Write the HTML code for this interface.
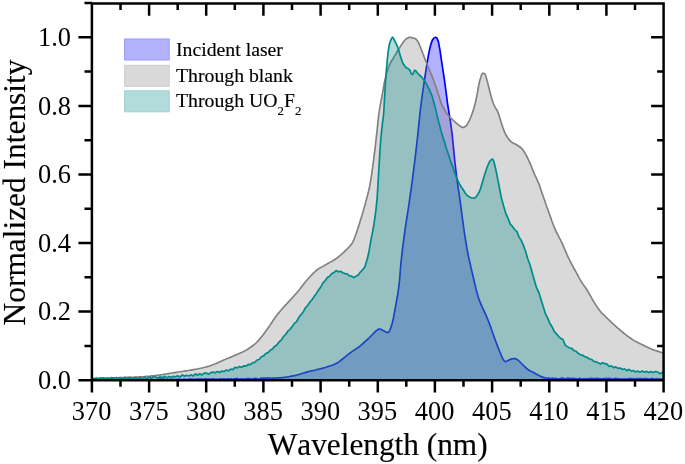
<!DOCTYPE html>
<html lang="en"><head><meta charset="utf-8"><title>Normalized Intensity vs Wavelength</title>
<style>html,body{margin:0;padding:0;background:#fff;}svg{display:block;}</style></head>
<body>
<svg width="685" height="464" viewBox="0 0 685 464">
<rect width="685" height="464" fill="#ffffff"/>
<defs><clipPath id="c"><rect x="91.9" y="3.5" width="571.7" height="376.7"/></clipPath></defs>
<g clip-path="url(#c)" stroke-linejoin="round" stroke-linecap="round">
<path d="M92.0,379.9 L93.5,379.6 L95.0,379.7 L96.5,379.8 L98.0,379.1 L99.5,379.8 L101.0,379.7 L102.5,379.6 L104.0,379.6 L105.5,379.5 L107.0,379.3 L108.5,379.6 L110.0,379.2 L111.5,379.6 L113.0,379.7 L114.5,379.5 L116.0,379.6 L117.5,380.0 L119.0,379.9 L120.5,379.2 L122.0,379.8 L123.5,379.7 L125.0,379.2 L126.5,379.4 L128.0,379.3 L129.5,379.2 L131.0,379.6 L132.5,379.9 L134.0,379.4 L135.5,379.9 L137.0,379.7 L138.5,379.2 L140.0,379.9 L141.5,379.6 L143.0,379.9 L144.5,379.7 L146.0,379.7 L147.5,379.4 L149.0,379.8 L150.5,379.9 L152.0,379.8 L153.5,379.5 L155.0,379.8 L156.5,379.5 L158.0,379.2 L159.5,379.1 L161.0,379.1 L162.5,379.2 L164.0,379.2 L165.5,379.5 L167.0,379.7 L168.5,379.5 L170.0,379.4 L171.5,379.6 L173.0,379.3 L174.5,379.5 L176.0,379.7 L177.5,379.4 L179.0,379.2 L180.5,379.8 L182.0,379.7 L183.5,379.3 L185.0,379.3 L186.5,379.5 L188.0,379.5 L189.5,379.2 L191.0,379.0 L192.5,379.2 L194.0,379.7 L195.5,379.1 L197.0,379.4 L198.5,379.1 L200.0,379.1 L201.5,379.1 L203.0,379.3 L204.5,379.1 L206.0,378.9 L207.5,379.0 L209.0,379.0 L210.5,379.3 L212.0,378.9 L213.5,378.9 L215.0,379.3 L216.5,379.2 L218.0,379.5 L219.5,378.9 L221.0,379.2 L222.5,379.1 L224.0,378.8 L225.5,379.6 L227.0,378.9 L228.5,378.8 L230.0,379.1 L231.5,378.8 L233.0,379.2 L234.5,378.9 L236.0,378.7 L237.5,378.6 L239.0,379.2 L240.5,378.8 L242.0,379.2 L243.5,378.9 L245.0,379.3 L246.5,378.7 L248.0,378.6 L249.5,378.6 L251.0,379.1 L252.5,378.9 L254.0,378.6 L255.5,378.3 L257.0,378.8 L258.5,379.0 L260.0,378.7 L261.5,378.1 L263.0,378.1 L264.5,378.1 L266.0,378.1 L267.5,378.0 L269.0,377.9 L270.5,378.3 L272.0,378.2 L273.5,378.2 L275.0,378.1 L276.5,378.0 L278.0,377.9 L279.5,377.9 L281.0,377.8 L282.5,377.6 L284.0,377.5 L285.5,377.2 L287.0,377.0 L288.5,376.8 L290.0,376.5 L291.5,376.2 L293.0,375.9 L294.5,375.6 L296.0,375.2 L297.5,374.9 L299.0,374.5 L300.5,374.0 L302.0,373.5 L303.5,373.0 L305.0,372.6 L306.5,372.1 L308.0,371.7 L309.5,371.4 L311.0,371.0 L312.5,370.7 L314.0,370.3 L315.5,370.0 L317.0,369.6 L318.5,369.2 L320.0,368.9 L321.5,368.5 L323.0,368.1 L324.5,367.7 L326.0,367.3 L327.5,366.8 L329.0,366.3 L330.5,365.8 L332.0,365.3 L333.5,364.7 L335.0,364.0 L336.5,363.3 L338.0,362.4 L339.5,361.4 L341.0,360.2 L342.5,359.0 L344.0,357.8 L345.5,356.6 L347.0,355.4 L348.5,354.2 L350.0,353.0 L351.5,351.9 L353.0,350.9 L354.5,349.9 L356.0,348.9 L357.5,347.9 L359.0,346.8 L360.5,345.6 L362.0,344.3 L363.5,343.0 L365.0,341.7 L366.5,340.3 L368.0,338.9 L369.5,337.5 L371.0,336.0 L372.5,334.5 L374.0,332.9 L375.5,331.4 L377.0,330.2 L378.5,329.2 L380.0,329.0 L381.5,329.6 L383.0,330.5 L384.5,331.3 L386.0,332.1 L387.5,332.6 L389.0,331.8 L390.5,328.7 L392.0,324.0 L393.5,317.7 L395.0,309.7 L396.5,301.2 L398.0,293.0 L399.5,280.9 L401.0,262.0 L402.5,249.1 L404.0,237.4 L405.5,226.5 L407.0,216.8 L408.5,207.3 L410.0,197.2 L411.5,186.3 L413.0,174.9 L414.5,163.0 L416.0,150.5 L417.5,137.5 L419.0,122.9 L420.5,108.7 L422.0,97.2 L423.5,86.5 L425.0,76.4 L426.5,66.8 L428.0,57.4 L429.5,49.7 L431.0,43.9 L432.5,39.9 L434.0,38.0 L435.5,37.3 L437.0,38.0 L438.5,42.1 L440.0,50.4 L441.5,60.6 L443.0,70.6 L444.5,80.5 L446.0,91.5 L447.5,103.3 L449.0,112.8 L450.5,122.2 L452.0,133.0 L453.5,147.8 L455.0,163.0 L456.5,175.6 L458.0,187.0 L459.5,196.6 L461.0,207.5 L462.5,219.1 L464.0,230.0 L465.5,239.8 L467.0,248.7 L468.5,256.5 L470.0,263.3 L471.5,269.7 L473.0,276.0 L474.5,282.5 L476.0,288.9 L477.5,294.6 L479.0,299.4 L480.5,303.2 L482.0,306.6 L483.5,309.8 L485.0,313.1 L486.5,316.4 L488.0,320.0 L489.5,323.9 L491.0,328.0 L492.5,332.3 L494.0,336.5 L495.5,340.7 L497.0,344.6 L498.5,348.5 L500.0,352.3 L501.5,355.9 L503.0,359.2 L504.5,361.3 L506.0,361.6 L507.5,360.8 L509.0,360.0 L510.5,359.4 L512.0,358.8 L513.5,358.6 L515.0,358.6 L516.5,359.1 L518.0,360.1 L519.5,361.5 L521.0,363.0 L522.5,364.5 L524.0,366.0 L525.5,367.4 L527.0,368.8 L528.5,369.9 L530.0,370.8 L531.5,371.6 L533.0,372.3 L534.5,373.1 L536.0,373.9 L537.5,374.8 L539.0,375.5 L540.5,376.2 L542.0,376.9 L543.5,377.4 L545.0,377.8 L546.5,378.0 L548.0,378.1 L549.5,378.4 L551.0,378.7 L552.5,378.1 L554.0,378.8 L555.5,378.4 L557.0,378.7 L558.5,378.9 L560.0,378.9 L561.5,378.1 L563.0,378.4 L564.5,378.6 L566.0,379.0 L567.5,378.2 L569.0,378.4 L570.5,378.9 L572.0,378.3 L573.5,378.5 L575.0,378.5 L576.5,378.8 L578.0,379.0 L579.5,378.3 L581.0,378.8 L582.5,378.8 L584.0,378.9 L585.5,378.7 L587.0,379.0 L588.5,378.5 L590.0,378.6 L591.5,378.4 L593.0,378.9 L594.5,378.7 L596.0,378.5 L597.5,378.4 L599.0,378.9 L600.5,378.8 L602.0,378.9 L603.5,378.6 L605.0,378.7 L606.5,378.4 L608.0,378.9 L609.5,378.3 L611.0,378.7 L612.5,379.0 L614.0,378.9 L615.5,378.4 L617.0,378.5 L618.5,379.1 L620.0,378.9 L621.5,379.1 L623.0,379.1 L624.5,378.8 L626.0,379.2 L627.5,379.0 L629.0,378.7 L630.5,378.7 L632.0,378.5 L633.5,378.8 L635.0,379.3 L636.5,378.5 L638.0,378.9 L639.5,378.5 L641.0,378.5 L642.5,379.0 L644.0,378.7 L645.5,378.5 L647.0,378.6 L648.5,379.1 L650.0,379.0 L651.5,378.5 L653.0,378.7 L654.5,379.4 L656.0,378.7 L657.5,379.0 L659.0,378.9 L660.5,379.2 L662.0,379.1 L663.5,379.3 L663.6,379.0 L663.6,380.2 L92.0,380.2 Z" fill="#0000ff" fill-opacity="0.3" stroke="none"/>
<path d="M92.0,379.9 L93.5,379.6 L95.0,379.7 L96.5,379.8 L98.0,379.1 L99.5,379.8 L101.0,379.7 L102.5,379.6 L104.0,379.6 L105.5,379.5 L107.0,379.3 L108.5,379.6 L110.0,379.2 L111.5,379.6 L113.0,379.7 L114.5,379.5 L116.0,379.6 L117.5,380.0 L119.0,379.9 L120.5,379.2 L122.0,379.8 L123.5,379.7 L125.0,379.2 L126.5,379.4 L128.0,379.3 L129.5,379.2 L131.0,379.6 L132.5,379.9 L134.0,379.4 L135.5,379.9 L137.0,379.7 L138.5,379.2 L140.0,379.9 L141.5,379.6 L143.0,379.9 L144.5,379.7 L146.0,379.7 L147.5,379.4 L149.0,379.8 L150.5,379.9 L152.0,379.8 L153.5,379.5 L155.0,379.8 L156.5,379.5 L158.0,379.2 L159.5,379.1 L161.0,379.1 L162.5,379.2 L164.0,379.2 L165.5,379.5 L167.0,379.7 L168.5,379.5 L170.0,379.4 L171.5,379.6 L173.0,379.3 L174.5,379.5 L176.0,379.7 L177.5,379.4 L179.0,379.2 L180.5,379.8 L182.0,379.7 L183.5,379.3 L185.0,379.3 L186.5,379.5 L188.0,379.5 L189.5,379.2 L191.0,379.0 L192.5,379.2 L194.0,379.7 L195.5,379.1 L197.0,379.4 L198.5,379.1 L200.0,379.1 L201.5,379.1 L203.0,379.3 L204.5,379.1 L206.0,378.9 L207.5,379.0 L209.0,379.0 L210.5,379.3 L212.0,378.9 L213.5,378.9 L215.0,379.3 L216.5,379.2 L218.0,379.5 L219.5,378.9 L221.0,379.2 L222.5,379.1 L224.0,378.8 L225.5,379.6 L227.0,378.9 L228.5,378.8 L230.0,379.1 L231.5,378.8 L233.0,379.2 L234.5,378.9 L236.0,378.7 L237.5,378.6 L239.0,379.2 L240.5,378.8 L242.0,379.2 L243.5,378.9 L245.0,379.3 L246.5,378.7 L248.0,378.6 L249.5,378.6 L251.0,379.1 L252.5,378.9 L254.0,378.6 L255.5,378.3 L257.0,378.8 L258.5,379.0 L260.0,378.7 L261.5,378.1 L263.0,378.1 L264.5,378.1 L266.0,378.1 L267.5,378.0 L269.0,377.9 L270.5,378.3 L272.0,378.2 L273.5,378.2 L275.0,378.1 L276.5,378.0 L278.0,377.9 L279.5,377.9 L281.0,377.8 L282.5,377.6 L284.0,377.5 L285.5,377.2 L287.0,377.0 L288.5,376.8 L290.0,376.5 L291.5,376.2 L293.0,375.9 L294.5,375.6 L296.0,375.2 L297.5,374.9 L299.0,374.5 L300.5,374.0 L302.0,373.5 L303.5,373.0 L305.0,372.6 L306.5,372.1 L308.0,371.7 L309.5,371.4 L311.0,371.0 L312.5,370.7 L314.0,370.3 L315.5,370.0 L317.0,369.6 L318.5,369.2 L320.0,368.9 L321.5,368.5 L323.0,368.1 L324.5,367.7 L326.0,367.3 L327.5,366.8 L329.0,366.3 L330.5,365.8 L332.0,365.3 L333.5,364.7 L335.0,364.0 L336.5,363.3 L338.0,362.4 L339.5,361.4 L341.0,360.2 L342.5,359.0 L344.0,357.8 L345.5,356.6 L347.0,355.4 L348.5,354.2 L350.0,353.0 L351.5,351.9 L353.0,350.9 L354.5,349.9 L356.0,348.9 L357.5,347.9 L359.0,346.8 L360.5,345.6 L362.0,344.3 L363.5,343.0 L365.0,341.7 L366.5,340.3 L368.0,338.9 L369.5,337.5 L371.0,336.0 L372.5,334.5 L374.0,332.9 L375.5,331.4 L377.0,330.2 L378.5,329.2 L380.0,329.0 L381.5,329.6 L383.0,330.5 L384.5,331.3 L386.0,332.1 L387.5,332.6 L389.0,331.8 L390.5,328.7 L392.0,324.0 L393.5,317.7 L395.0,309.7 L396.5,301.2 L398.0,293.0 L399.5,280.9 L401.0,262.0 L402.5,249.1 L404.0,237.4 L405.5,226.5 L407.0,216.8 L408.5,207.3 L410.0,197.2 L411.5,186.3 L413.0,174.9 L414.5,163.0 L416.0,150.5 L417.5,137.5 L419.0,122.9 L420.5,108.7 L422.0,97.2 L423.5,86.5 L425.0,76.4 L426.5,66.8 L428.0,57.4 L429.5,49.7 L431.0,43.9 L432.5,39.9 L434.0,38.0 L435.5,37.3 L437.0,38.0 L438.5,42.1 L440.0,50.4 L441.5,60.6 L443.0,70.6 L444.5,80.5 L446.0,91.5 L447.5,103.3 L449.0,112.8 L450.5,122.2 L452.0,133.0 L453.5,147.8 L455.0,163.0 L456.5,175.6 L458.0,187.0 L459.5,196.6 L461.0,207.5 L462.5,219.1 L464.0,230.0 L465.5,239.8 L467.0,248.7 L468.5,256.5 L470.0,263.3 L471.5,269.7 L473.0,276.0 L474.5,282.5 L476.0,288.9 L477.5,294.6 L479.0,299.4 L480.5,303.2 L482.0,306.6 L483.5,309.8 L485.0,313.1 L486.5,316.4 L488.0,320.0 L489.5,323.9 L491.0,328.0 L492.5,332.3 L494.0,336.5 L495.5,340.7 L497.0,344.6 L498.5,348.5 L500.0,352.3 L501.5,355.9 L503.0,359.2 L504.5,361.3 L506.0,361.6 L507.5,360.8 L509.0,360.0 L510.5,359.4 L512.0,358.8 L513.5,358.6 L515.0,358.6 L516.5,359.1 L518.0,360.1 L519.5,361.5 L521.0,363.0 L522.5,364.5 L524.0,366.0 L525.5,367.4 L527.0,368.8 L528.5,369.9 L530.0,370.8 L531.5,371.6 L533.0,372.3 L534.5,373.1 L536.0,373.9 L537.5,374.8 L539.0,375.5 L540.5,376.2 L542.0,376.9 L543.5,377.4 L545.0,377.8 L546.5,378.0 L548.0,378.1 L549.5,378.4 L551.0,378.7 L552.5,378.1 L554.0,378.8 L555.5,378.4 L557.0,378.7 L558.5,378.9 L560.0,378.9 L561.5,378.1 L563.0,378.4 L564.5,378.6 L566.0,379.0 L567.5,378.2 L569.0,378.4 L570.5,378.9 L572.0,378.3 L573.5,378.5 L575.0,378.5 L576.5,378.8 L578.0,379.0 L579.5,378.3 L581.0,378.8 L582.5,378.8 L584.0,378.9 L585.5,378.7 L587.0,379.0 L588.5,378.5 L590.0,378.6 L591.5,378.4 L593.0,378.9 L594.5,378.7 L596.0,378.5 L597.5,378.4 L599.0,378.9 L600.5,378.8 L602.0,378.9 L603.5,378.6 L605.0,378.7 L606.5,378.4 L608.0,378.9 L609.5,378.3 L611.0,378.7 L612.5,379.0 L614.0,378.9 L615.5,378.4 L617.0,378.5 L618.5,379.1 L620.0,378.9 L621.5,379.1 L623.0,379.1 L624.5,378.8 L626.0,379.2 L627.5,379.0 L629.0,378.7 L630.5,378.7 L632.0,378.5 L633.5,378.8 L635.0,379.3 L636.5,378.5 L638.0,378.9 L639.5,378.5 L641.0,378.5 L642.5,379.0 L644.0,378.7 L645.5,378.5 L647.0,378.6 L648.5,379.1 L650.0,379.0 L651.5,378.5 L653.0,378.7 L654.5,379.4 L656.0,378.7 L657.5,379.0 L659.0,378.9 L660.5,379.2 L662.0,379.1 L663.5,379.3 L663.6,379.0" fill="none" stroke="#0000ff" stroke-width="1.7"/>
<path d="M92.0,378.3 L92.7,378.3 L93.4,378.3 L94.3,378.2 L95.2,378.2 L96.2,378.2 L97.3,378.2 L98.5,378.2 L99.7,378.1 L100.9,378.1 L102.2,378.1 L103.6,378.0 L104.9,378.0 L106.3,378.0 L107.7,378.0 L109.2,377.9 L110.6,377.9 L112.0,377.8 L113.4,377.8 L114.8,377.8 L116.1,377.7 L117.5,377.7 L118.8,377.6 L120.0,377.6 L121.2,377.6 L122.4,377.5 L123.7,377.5 L124.9,377.4 L126.1,377.4 L127.3,377.4 L128.5,377.3 L129.7,377.3 L131.0,377.3 L132.2,377.2 L133.4,377.2 L134.6,377.1 L135.8,377.1 L137.0,377.0 L138.3,377.0 L139.5,376.9 L140.7,376.8 L141.9,376.8 L143.1,376.7 L144.3,376.6 L145.6,376.5 L146.8,376.4 L148.0,376.3 L149.2,376.2 L150.4,376.1 L151.6,375.9 L152.8,375.8 L154.0,375.7 L155.3,375.5 L156.5,375.4 L157.7,375.2 L158.9,375.0 L160.1,374.9 L161.3,374.7 L162.5,374.5 L163.7,374.3 L164.9,374.2 L166.1,374.0 L167.3,373.8 L168.6,373.6 L169.8,373.4 L171.0,373.2 L172.2,373.0 L173.5,372.8 L174.7,372.6 L176.0,372.4 L177.2,372.2 L178.4,372.0 L179.6,371.8 L180.8,371.7 L182.0,371.5 L183.3,371.3 L184.5,371.1 L185.8,370.9 L187.0,370.7 L188.3,370.5 L189.5,370.3 L190.8,370.1 L192.1,369.9 L193.3,369.7 L194.6,369.4 L195.8,369.2 L197.0,369.0 L198.2,368.8 L199.4,368.5 L200.5,368.3 L201.7,368.0 L202.8,367.8 L203.9,367.5 L205.0,367.3 L206.0,367.0 L207.4,366.6 L208.8,366.2 L210.1,365.7 L211.5,365.3 L212.8,364.8 L214.1,364.3 L215.3,363.8 L216.6,363.2 L217.8,362.7 L218.9,362.2 L220.0,361.7 L221.1,361.2 L222.2,360.7 L223.2,360.2 L224.2,359.8 L225.2,359.4 L226.1,359.0 L227.0,358.6 L228.6,358.0 L230.0,357.4 L231.1,356.9 L232.2,356.5 L233.2,356.1 L234.1,355.7 L235.0,355.3 L235.9,354.9 L237.0,354.4 L238.1,353.9 L239.2,353.4 L240.3,352.9 L241.4,352.5 L242.6,352.0 L243.7,351.4 L244.8,350.9 L245.9,350.3 L247.0,349.6 L248.0,349.0 L249.0,348.3 L250.0,347.7 L251.0,347.0 L252.0,346.3 L253.0,345.5 L254.0,344.7 L255.0,343.9 L256.0,343.0 L257.0,342.0 L257.8,341.2 L258.5,340.4 L259.3,339.5 L260.1,338.6 L260.8,337.6 L261.6,336.7 L262.4,335.7 L263.2,334.7 L263.9,333.7 L264.7,332.6 L265.5,331.6 L266.2,330.5 L267.0,329.5 L267.7,328.5 L268.4,327.5 L269.1,326.5 L269.9,325.4 L270.6,324.3 L271.3,323.3 L272.0,322.2 L272.7,321.1 L273.4,320.0 L274.1,319.0 L274.9,317.9 L275.6,316.9 L276.3,315.9 L277.0,315.0 L277.8,313.9 L278.7,312.9 L279.5,311.9 L280.3,310.9 L281.2,310.0 L282.0,309.0 L282.8,308.1 L283.7,307.2 L284.5,306.3 L285.3,305.4 L286.2,304.4 L287.0,303.5 L287.8,302.6 L288.7,301.7 L289.5,300.8 L290.3,299.9 L291.2,299.0 L292.0,298.1 L292.8,297.2 L293.7,296.3 L294.5,295.3 L295.3,294.4 L296.2,293.5 L297.0,292.5 L297.8,291.6 L298.5,290.6 L299.3,289.7 L300.1,288.7 L300.8,287.7 L301.6,286.7 L302.4,285.7 L303.2,284.7 L303.9,283.7 L304.7,282.7 L305.5,281.8 L306.2,280.9 L307.0,280.0 L307.9,279.0 L308.8,278.0 L309.7,277.0 L310.6,276.0 L311.5,275.1 L312.5,274.1 L313.4,273.2 L314.3,272.4 L315.2,271.5 L316.1,270.7 L317.0,270.0 L318.1,269.2 L319.2,268.4 L320.3,267.7 L321.4,267.1 L322.6,266.4 L323.7,265.9 L324.8,265.3 L325.9,264.6 L327.0,264.0 L328.1,263.3 L329.2,262.7 L330.3,262.1 L331.4,261.5 L332.6,260.9 L333.7,260.2 L334.8,259.5 L335.9,258.8 L337.0,258.0 L337.9,257.3 L338.9,256.5 L339.8,255.7 L340.8,254.9 L341.8,254.0 L342.7,253.2 L343.7,252.3 L344.6,251.4 L345.4,250.6 L346.2,249.8 L347.0,249.0 L347.9,248.1 L348.8,247.2 L349.5,246.5 L350.2,245.7 L350.9,244.9 L351.6,244.0 L352.3,242.9 L353.0,241.5 L353.4,240.6 L353.9,239.6 L354.3,238.6 L354.7,237.4 L355.2,236.3 L355.6,235.0 L356.1,233.8 L356.5,232.5 L356.9,231.2 L357.4,229.9 L357.8,228.7 L358.2,227.4 L358.6,226.2 L359.0,225.0 L359.4,223.7 L359.8,222.4 L360.2,221.1 L360.6,219.8 L361.0,218.5 L361.4,217.2 L361.8,215.9 L362.2,214.7 L362.5,213.4 L362.9,212.2 L363.2,211.1 L363.5,210.0 L363.8,209.0 L364.2,207.5 L364.6,206.3 L364.9,205.2 L365.2,204.2 L365.4,203.2 L365.7,202.1 L366.0,200.9 L366.4,199.5 L366.7,198.5 L366.9,197.5 L367.2,196.4 L367.5,195.4 L367.8,194.3 L368.1,193.1 L368.4,191.9 L368.7,190.6 L369.0,189.3 L369.4,187.8 L369.7,186.2 L370.0,184.5 L370.2,183.6 L370.3,182.6 L370.5,181.5 L370.7,180.4 L370.9,179.3 L371.0,178.2 L371.2,177.0 L371.4,175.8 L371.6,174.6 L371.8,173.3 L371.9,172.1 L372.1,170.8 L372.3,169.5 L372.5,168.2 L372.7,166.9 L372.8,165.7 L373.0,164.4 L373.2,163.1 L373.4,161.8 L373.5,160.6 L373.7,159.4 L373.8,158.2 L374.0,157.0 L374.2,155.7 L374.3,154.4 L374.5,153.1 L374.6,151.8 L374.8,150.5 L375.0,149.2 L375.1,147.9 L375.3,146.6 L375.4,145.3 L375.6,144.1 L375.7,142.8 L375.8,141.5 L376.0,140.3 L376.1,139.0 L376.2,137.8 L376.4,136.6 L376.5,135.4 L376.6,134.3 L376.8,133.2 L376.9,132.1 L377.0,131.0 L377.2,129.6 L377.3,128.2 L377.4,126.8 L377.6,125.6 L377.7,124.3 L377.8,123.1 L377.9,121.9 L378.1,120.7 L378.2,119.6 L378.3,118.5 L378.4,117.3 L378.6,116.2 L378.7,115.1 L378.8,114.0 L379.0,112.8 L379.2,111.6 L379.4,110.3 L379.6,109.1 L379.8,107.9 L380.0,106.7 L380.2,105.5 L380.4,104.3 L380.7,103.1 L380.9,101.9 L381.1,100.7 L381.3,99.5 L381.6,98.3 L381.8,97.2 L382.0,96.0 L382.2,94.7 L382.5,93.5 L382.7,92.2 L382.9,91.0 L383.1,89.7 L383.3,88.4 L383.5,87.2 L383.8,86.0 L384.0,84.7 L384.2,83.5 L384.5,82.3 L384.7,81.2 L385.0,80.0 L385.3,78.7 L385.6,77.5 L385.9,76.2 L386.2,75.0 L386.5,73.8 L386.9,72.6 L387.2,71.4 L387.6,70.2 L387.9,69.1 L388.3,68.0 L388.6,67.0 L389.0,66.0 L389.6,64.6 L390.2,63.4 L390.8,62.3 L391.4,61.2 L392.0,60.2 L392.7,59.2 L393.3,58.1 L394.0,57.0 L394.6,55.9 L395.3,54.8 L396.0,53.6 L396.7,52.5 L397.3,51.3 L398.0,50.1 L398.7,49.0 L399.4,48.0 L400.0,47.0 L400.8,45.8 L401.6,44.6 L402.3,43.5 L403.0,42.5 L403.7,41.6 L404.4,40.7 L405.0,40.0 L406.3,38.8 L407.4,38.2 L408.3,37.7 L409.3,37.2 L410.2,37.2 L411.8,37.6 L413.4,38.2 L414.5,38.4 L415.5,38.7 L416.4,39.6 L417.3,40.8 L418.0,41.6 L419.0,43.7 L419.3,44.5 L419.7,45.5 L420.2,46.6 L420.6,47.7 L421.1,49.0 L421.6,50.3 L422.1,51.6 L422.6,52.9 L423.1,54.2 L423.6,55.4 L424.0,56.5 L424.5,57.9 L425.0,59.1 L425.5,60.4 L426.0,61.5 L426.5,62.7 L427.0,63.9 L427.5,65.2 L428.0,66.5 L428.5,67.6 L428.9,68.8 L429.4,69.9 L429.9,71.1 L430.4,72.3 L431.0,73.6 L431.5,74.8 L432.0,76.1 L432.5,77.4 L433.0,78.7 L433.4,79.8 L433.9,81.0 L434.3,82.2 L434.7,83.5 L435.2,84.8 L435.6,86.0 L436.1,87.3 L436.5,88.5 L436.9,89.7 L437.3,90.9 L437.7,92.0 L438.0,93.0 L438.5,94.5 L438.9,95.8 L439.3,97.1 L439.7,98.4 L440.0,99.5 L440.4,100.6 L440.7,101.6 L441.0,102.5 L441.5,103.9 L441.9,104.8 L442.3,105.7 L443.0,107.0 L443.5,108.0 L444.2,109.1 L444.9,110.3 L445.6,111.5 L446.4,112.8 L447.2,113.9 L448.0,115.0 L448.8,116.0 L449.6,116.9 L450.5,117.8 L451.4,118.6 L452.3,119.4 L453.1,120.2 L454.0,121.0 L455.0,121.9 L456.1,122.9 L457.2,123.8 L458.2,124.6 L459.2,125.4 L460.0,126.0 L461.7,127.1 L463.0,127.4 L464.4,127.2 L466.0,126.0 L466.6,125.2 L467.3,124.2 L468.0,123.0 L468.7,121.7 L469.4,120.3 L470.0,119.0 L470.5,117.8 L471.0,116.6 L471.5,115.3 L472.0,114.0 L472.4,112.7 L472.9,111.4 L473.3,110.0 L473.7,108.8 L474.0,107.7 L474.3,106.6 L474.7,105.4 L475.0,104.2 L475.3,102.9 L475.7,101.5 L476.0,100.0 L476.2,98.9 L476.5,97.8 L476.7,96.6 L476.9,95.3 L477.2,93.9 L477.4,92.6 L477.7,91.2 L477.9,89.8 L478.1,88.5 L478.4,87.3 L478.6,86.1 L478.8,85.0 L479.0,84.0 L479.4,82.1 L479.8,80.5 L480.2,79.2 L480.6,78.0 L480.9,76.9 L481.2,76.0 L481.9,74.0 L482.6,73.2 L483.9,73.4 L485.2,74.4 L485.7,75.5 L486.1,76.9 L486.5,78.5 L486.8,79.6 L487.1,80.8 L487.5,82.1 L488.0,84.0 L488.2,85.0 L488.5,86.0 L488.8,87.2 L489.1,88.5 L489.4,89.8 L489.7,91.1 L490.1,92.4 L490.4,93.7 L490.7,94.9 L491.0,96.0 L491.4,97.5 L491.8,98.8 L492.2,100.1 L492.6,101.4 L493.1,102.6 L493.5,103.8 L494.0,105.0 L494.5,106.1 L495.1,107.1 L495.6,108.1 L496.2,109.0 L496.8,110.0 L497.4,111.2 L498.0,112.5 L498.4,113.6 L498.8,114.7 L499.2,116.0 L499.6,117.3 L500.0,118.6 L500.4,119.9 L500.8,121.3 L501.2,122.6 L501.6,123.8 L502.0,125.0 L502.5,126.4 L503.0,127.8 L503.5,129.1 L503.9,130.4 L504.4,131.6 L504.9,132.8 L505.5,133.9 L506.0,135.0 L506.8,136.3 L507.6,137.6 L508.4,138.7 L509.2,139.8 L510.1,140.7 L511.0,141.6 L512.1,142.5 L513.3,143.1 L514.6,143.7 L515.8,144.3 L517.0,145.0 L518.0,145.7 L519.0,146.3 L520.0,147.0 L521.0,147.8 L522.0,148.8 L523.0,150.0 L523.6,150.9 L524.2,151.8 L524.8,152.8 L525.4,153.9 L526.1,155.1 L526.7,156.2 L527.3,157.4 L527.9,158.6 L528.4,159.8 L529.0,161.0 L529.5,162.2 L530.1,163.4 L530.6,164.6 L531.1,165.8 L531.6,167.0 L532.0,168.2 L532.5,169.4 L533.0,170.6 L533.5,171.8 L534.0,173.0 L534.5,174.2 L535.0,175.3 L535.6,176.5 L536.1,177.7 L536.7,178.9 L537.2,180.0 L537.7,181.1 L538.2,182.1 L538.6,183.1 L539.0,184.0 L539.5,185.3 L539.8,186.1 L540.0,186.8 L540.3,188.0 L541.0,190.0 L541.3,190.8 L541.6,191.7 L541.9,192.7 L542.3,193.8 L542.7,194.9 L543.1,196.1 L543.5,197.3 L544.0,198.5 L544.4,199.8 L544.9,201.1 L545.3,202.5 L545.8,203.8 L546.2,205.1 L546.7,206.4 L547.1,207.6 L547.6,208.8 L548.0,210.0 L548.4,211.2 L548.9,212.5 L549.3,213.7 L549.8,214.9 L550.2,216.2 L550.6,217.4 L551.1,218.7 L551.5,219.9 L551.9,221.1 L552.4,222.3 L552.8,223.5 L553.2,224.6 L553.7,225.8 L554.1,226.9 L554.6,228.0 L555.0,229.0 L555.5,230.2 L556.1,231.4 L556.6,232.5 L557.2,233.6 L557.7,234.7 L558.2,235.7 L558.8,236.7 L559.3,237.7 L559.8,238.7 L560.4,239.7 L560.9,240.8 L561.5,241.9 L562.0,243.0 L562.5,244.1 L563.0,245.2 L563.5,246.4 L564.0,247.5 L564.5,248.7 L565.0,249.9 L565.5,251.1 L566.0,252.2 L566.5,253.4 L567.0,254.6 L567.5,255.7 L568.0,256.9 L568.5,257.9 L569.0,259.0 L569.6,260.2 L570.2,261.4 L570.8,262.5 L571.4,263.6 L572.0,264.7 L572.6,265.8 L573.2,266.9 L573.7,267.9 L574.3,269.0 L574.9,270.0 L575.5,271.0 L576.0,272.0 L576.6,273.2 L577.3,274.4 L577.9,275.5 L578.5,276.7 L579.1,277.8 L579.7,278.8 L580.3,279.9 L580.9,280.9 L581.4,281.9 L582.0,282.8 L582.7,283.9 L583.3,284.8 L583.9,285.6 L584.5,286.3 L585.2,287.2 L586.0,288.4 L587.0,290.0 L587.5,290.8 L588.0,291.7 L588.6,292.7 L589.2,293.7 L589.8,294.8 L590.5,295.9 L591.2,297.1 L591.8,298.3 L592.5,299.5 L593.2,300.8 L593.9,302.0 L594.7,303.1 L595.4,304.3 L596.0,305.4 L596.7,306.4 L597.4,307.4 L598.0,308.3 L598.9,309.5 L599.7,310.5 L600.5,311.5 L601.3,312.4 L602.1,313.3 L602.9,314.1 L603.7,314.9 L604.6,315.7 L605.4,316.5 L606.2,317.3 L607.1,318.1 L608.0,319.0 L608.9,319.8 L609.7,320.7 L610.6,321.6 L611.5,322.4 L612.5,323.3 L613.4,324.2 L614.3,325.0 L615.3,325.9 L616.2,326.7 L617.2,327.6 L618.1,328.4 L619.1,329.2 L620.0,330.0 L621.0,330.8 L622.0,331.7 L623.0,332.5 L624.0,333.3 L625.0,334.1 L626.0,334.9 L627.0,335.7 L628.0,336.4 L629.0,337.1 L630.0,337.8 L631.0,338.5 L632.0,339.2 L633.1,339.9 L634.2,340.6 L635.3,341.2 L636.4,341.8 L637.6,342.4 L638.7,343.0 L639.8,343.5 L640.9,344.1 L641.9,344.6 L643.0,345.1 L644.0,345.6 L645.2,346.2 L646.4,346.7 L647.5,347.3 L648.6,347.8 L649.7,348.3 L650.8,348.7 L651.8,349.2 L652.9,349.6 L654.0,350.0 L655.3,350.5 L656.7,350.9 L658.1,351.4 L659.4,351.8 L660.7,352.2 L661.9,352.5 L662.9,352.8 L663.6,353.0 L663.6,380.2 L92.0,380.2 Z" fill="#808080" fill-opacity="0.3" stroke="none"/>
<path d="M92.0,378.3 L92.7,378.3 L93.4,378.3 L94.3,378.2 L95.2,378.2 L96.2,378.2 L97.3,378.2 L98.5,378.2 L99.7,378.1 L100.9,378.1 L102.2,378.1 L103.6,378.0 L104.9,378.0 L106.3,378.0 L107.7,378.0 L109.2,377.9 L110.6,377.9 L112.0,377.8 L113.4,377.8 L114.8,377.8 L116.1,377.7 L117.5,377.7 L118.8,377.6 L120.0,377.6 L121.2,377.6 L122.4,377.5 L123.7,377.5 L124.9,377.4 L126.1,377.4 L127.3,377.4 L128.5,377.3 L129.7,377.3 L131.0,377.3 L132.2,377.2 L133.4,377.2 L134.6,377.1 L135.8,377.1 L137.0,377.0 L138.3,377.0 L139.5,376.9 L140.7,376.8 L141.9,376.8 L143.1,376.7 L144.3,376.6 L145.6,376.5 L146.8,376.4 L148.0,376.3 L149.2,376.2 L150.4,376.1 L151.6,375.9 L152.8,375.8 L154.0,375.7 L155.3,375.5 L156.5,375.4 L157.7,375.2 L158.9,375.0 L160.1,374.9 L161.3,374.7 L162.5,374.5 L163.7,374.3 L164.9,374.2 L166.1,374.0 L167.3,373.8 L168.6,373.6 L169.8,373.4 L171.0,373.2 L172.2,373.0 L173.5,372.8 L174.7,372.6 L176.0,372.4 L177.2,372.2 L178.4,372.0 L179.6,371.8 L180.8,371.7 L182.0,371.5 L183.3,371.3 L184.5,371.1 L185.8,370.9 L187.0,370.7 L188.3,370.5 L189.5,370.3 L190.8,370.1 L192.1,369.9 L193.3,369.7 L194.6,369.4 L195.8,369.2 L197.0,369.0 L198.2,368.8 L199.4,368.5 L200.5,368.3 L201.7,368.0 L202.8,367.8 L203.9,367.5 L205.0,367.3 L206.0,367.0 L207.4,366.6 L208.8,366.2 L210.1,365.7 L211.5,365.3 L212.8,364.8 L214.1,364.3 L215.3,363.8 L216.6,363.2 L217.8,362.7 L218.9,362.2 L220.0,361.7 L221.1,361.2 L222.2,360.7 L223.2,360.2 L224.2,359.8 L225.2,359.4 L226.1,359.0 L227.0,358.6 L228.6,358.0 L230.0,357.4 L231.1,356.9 L232.2,356.5 L233.2,356.1 L234.1,355.7 L235.0,355.3 L235.9,354.9 L237.0,354.4 L238.1,353.9 L239.2,353.4 L240.3,352.9 L241.4,352.5 L242.6,352.0 L243.7,351.4 L244.8,350.9 L245.9,350.3 L247.0,349.6 L248.0,349.0 L249.0,348.3 L250.0,347.7 L251.0,347.0 L252.0,346.3 L253.0,345.5 L254.0,344.7 L255.0,343.9 L256.0,343.0 L257.0,342.0 L257.8,341.2 L258.5,340.4 L259.3,339.5 L260.1,338.6 L260.8,337.6 L261.6,336.7 L262.4,335.7 L263.2,334.7 L263.9,333.7 L264.7,332.6 L265.5,331.6 L266.2,330.5 L267.0,329.5 L267.7,328.5 L268.4,327.5 L269.1,326.5 L269.9,325.4 L270.6,324.3 L271.3,323.3 L272.0,322.2 L272.7,321.1 L273.4,320.0 L274.1,319.0 L274.9,317.9 L275.6,316.9 L276.3,315.9 L277.0,315.0 L277.8,313.9 L278.7,312.9 L279.5,311.9 L280.3,310.9 L281.2,310.0 L282.0,309.0 L282.8,308.1 L283.7,307.2 L284.5,306.3 L285.3,305.4 L286.2,304.4 L287.0,303.5 L287.8,302.6 L288.7,301.7 L289.5,300.8 L290.3,299.9 L291.2,299.0 L292.0,298.1 L292.8,297.2 L293.7,296.3 L294.5,295.3 L295.3,294.4 L296.2,293.5 L297.0,292.5 L297.8,291.6 L298.5,290.6 L299.3,289.7 L300.1,288.7 L300.8,287.7 L301.6,286.7 L302.4,285.7 L303.2,284.7 L303.9,283.7 L304.7,282.7 L305.5,281.8 L306.2,280.9 L307.0,280.0 L307.9,279.0 L308.8,278.0 L309.7,277.0 L310.6,276.0 L311.5,275.1 L312.5,274.1 L313.4,273.2 L314.3,272.4 L315.2,271.5 L316.1,270.7 L317.0,270.0 L318.1,269.2 L319.2,268.4 L320.3,267.7 L321.4,267.1 L322.6,266.4 L323.7,265.9 L324.8,265.3 L325.9,264.6 L327.0,264.0 L328.1,263.3 L329.2,262.7 L330.3,262.1 L331.4,261.5 L332.6,260.9 L333.7,260.2 L334.8,259.5 L335.9,258.8 L337.0,258.0 L337.9,257.3 L338.9,256.5 L339.8,255.7 L340.8,254.9 L341.8,254.0 L342.7,253.2 L343.7,252.3 L344.6,251.4 L345.4,250.6 L346.2,249.8 L347.0,249.0 L347.9,248.1 L348.8,247.2 L349.5,246.5 L350.2,245.7 L350.9,244.9 L351.6,244.0 L352.3,242.9 L353.0,241.5 L353.4,240.6 L353.9,239.6 L354.3,238.6 L354.7,237.4 L355.2,236.3 L355.6,235.0 L356.1,233.8 L356.5,232.5 L356.9,231.2 L357.4,229.9 L357.8,228.7 L358.2,227.4 L358.6,226.2 L359.0,225.0 L359.4,223.7 L359.8,222.4 L360.2,221.1 L360.6,219.8 L361.0,218.5 L361.4,217.2 L361.8,215.9 L362.2,214.7 L362.5,213.4 L362.9,212.2 L363.2,211.1 L363.5,210.0 L363.8,209.0 L364.2,207.5 L364.6,206.3 L364.9,205.2 L365.2,204.2 L365.4,203.2 L365.7,202.1 L366.0,200.9 L366.4,199.5 L366.7,198.5 L366.9,197.5 L367.2,196.4 L367.5,195.4 L367.8,194.3 L368.1,193.1 L368.4,191.9 L368.7,190.6 L369.0,189.3 L369.4,187.8 L369.7,186.2 L370.0,184.5 L370.2,183.6 L370.3,182.6 L370.5,181.5 L370.7,180.4 L370.9,179.3 L371.0,178.2 L371.2,177.0 L371.4,175.8 L371.6,174.6 L371.8,173.3 L371.9,172.1 L372.1,170.8 L372.3,169.5 L372.5,168.2 L372.7,166.9 L372.8,165.7 L373.0,164.4 L373.2,163.1 L373.4,161.8 L373.5,160.6 L373.7,159.4 L373.8,158.2 L374.0,157.0 L374.2,155.7 L374.3,154.4 L374.5,153.1 L374.6,151.8 L374.8,150.5 L375.0,149.2 L375.1,147.9 L375.3,146.6 L375.4,145.3 L375.6,144.1 L375.7,142.8 L375.8,141.5 L376.0,140.3 L376.1,139.0 L376.2,137.8 L376.4,136.6 L376.5,135.4 L376.6,134.3 L376.8,133.2 L376.9,132.1 L377.0,131.0 L377.2,129.6 L377.3,128.2 L377.4,126.8 L377.6,125.6 L377.7,124.3 L377.8,123.1 L377.9,121.9 L378.1,120.7 L378.2,119.6 L378.3,118.5 L378.4,117.3 L378.6,116.2 L378.7,115.1 L378.8,114.0 L379.0,112.8 L379.2,111.6 L379.4,110.3 L379.6,109.1 L379.8,107.9 L380.0,106.7 L380.2,105.5 L380.4,104.3 L380.7,103.1 L380.9,101.9 L381.1,100.7 L381.3,99.5 L381.6,98.3 L381.8,97.2 L382.0,96.0 L382.2,94.7 L382.5,93.5 L382.7,92.2 L382.9,91.0 L383.1,89.7 L383.3,88.4 L383.5,87.2 L383.8,86.0 L384.0,84.7 L384.2,83.5 L384.5,82.3 L384.7,81.2 L385.0,80.0 L385.3,78.7 L385.6,77.5 L385.9,76.2 L386.2,75.0 L386.5,73.8 L386.9,72.6 L387.2,71.4 L387.6,70.2 L387.9,69.1 L388.3,68.0 L388.6,67.0 L389.0,66.0 L389.6,64.6 L390.2,63.4 L390.8,62.3 L391.4,61.2 L392.0,60.2 L392.7,59.2 L393.3,58.1 L394.0,57.0 L394.6,55.9 L395.3,54.8 L396.0,53.6 L396.7,52.5 L397.3,51.3 L398.0,50.1 L398.7,49.0 L399.4,48.0 L400.0,47.0 L400.8,45.8 L401.6,44.6 L402.3,43.5 L403.0,42.5 L403.7,41.6 L404.4,40.7 L405.0,40.0 L406.3,38.8 L407.4,38.2 L408.3,37.7 L409.3,37.2 L410.2,37.2 L411.8,37.6 L413.4,38.2 L414.5,38.4 L415.5,38.7 L416.4,39.6 L417.3,40.8 L418.0,41.6 L419.0,43.7 L419.3,44.5 L419.7,45.5 L420.2,46.6 L420.6,47.7 L421.1,49.0 L421.6,50.3 L422.1,51.6 L422.6,52.9 L423.1,54.2 L423.6,55.4 L424.0,56.5 L424.5,57.9 L425.0,59.1 L425.5,60.4 L426.0,61.5 L426.5,62.7 L427.0,63.9 L427.5,65.2 L428.0,66.5 L428.5,67.6 L428.9,68.8 L429.4,69.9 L429.9,71.1 L430.4,72.3 L431.0,73.6 L431.5,74.8 L432.0,76.1 L432.5,77.4 L433.0,78.7 L433.4,79.8 L433.9,81.0 L434.3,82.2 L434.7,83.5 L435.2,84.8 L435.6,86.0 L436.1,87.3 L436.5,88.5 L436.9,89.7 L437.3,90.9 L437.7,92.0 L438.0,93.0 L438.5,94.5 L438.9,95.8 L439.3,97.1 L439.7,98.4 L440.0,99.5 L440.4,100.6 L440.7,101.6 L441.0,102.5 L441.5,103.9 L441.9,104.8 L442.3,105.7 L443.0,107.0 L443.5,108.0 L444.2,109.1 L444.9,110.3 L445.6,111.5 L446.4,112.8 L447.2,113.9 L448.0,115.0 L448.8,116.0 L449.6,116.9 L450.5,117.8 L451.4,118.6 L452.3,119.4 L453.1,120.2 L454.0,121.0 L455.0,121.9 L456.1,122.9 L457.2,123.8 L458.2,124.6 L459.2,125.4 L460.0,126.0 L461.7,127.1 L463.0,127.4 L464.4,127.2 L466.0,126.0 L466.6,125.2 L467.3,124.2 L468.0,123.0 L468.7,121.7 L469.4,120.3 L470.0,119.0 L470.5,117.8 L471.0,116.6 L471.5,115.3 L472.0,114.0 L472.4,112.7 L472.9,111.4 L473.3,110.0 L473.7,108.8 L474.0,107.7 L474.3,106.6 L474.7,105.4 L475.0,104.2 L475.3,102.9 L475.7,101.5 L476.0,100.0 L476.2,98.9 L476.5,97.8 L476.7,96.6 L476.9,95.3 L477.2,93.9 L477.4,92.6 L477.7,91.2 L477.9,89.8 L478.1,88.5 L478.4,87.3 L478.6,86.1 L478.8,85.0 L479.0,84.0 L479.4,82.1 L479.8,80.5 L480.2,79.2 L480.6,78.0 L480.9,76.9 L481.2,76.0 L481.9,74.0 L482.6,73.2 L483.9,73.4 L485.2,74.4 L485.7,75.5 L486.1,76.9 L486.5,78.5 L486.8,79.6 L487.1,80.8 L487.5,82.1 L488.0,84.0 L488.2,85.0 L488.5,86.0 L488.8,87.2 L489.1,88.5 L489.4,89.8 L489.7,91.1 L490.1,92.4 L490.4,93.7 L490.7,94.9 L491.0,96.0 L491.4,97.5 L491.8,98.8 L492.2,100.1 L492.6,101.4 L493.1,102.6 L493.5,103.8 L494.0,105.0 L494.5,106.1 L495.1,107.1 L495.6,108.1 L496.2,109.0 L496.8,110.0 L497.4,111.2 L498.0,112.5 L498.4,113.6 L498.8,114.7 L499.2,116.0 L499.6,117.3 L500.0,118.6 L500.4,119.9 L500.8,121.3 L501.2,122.6 L501.6,123.8 L502.0,125.0 L502.5,126.4 L503.0,127.8 L503.5,129.1 L503.9,130.4 L504.4,131.6 L504.9,132.8 L505.5,133.9 L506.0,135.0 L506.8,136.3 L507.6,137.6 L508.4,138.7 L509.2,139.8 L510.1,140.7 L511.0,141.6 L512.1,142.5 L513.3,143.1 L514.6,143.7 L515.8,144.3 L517.0,145.0 L518.0,145.7 L519.0,146.3 L520.0,147.0 L521.0,147.8 L522.0,148.8 L523.0,150.0 L523.6,150.9 L524.2,151.8 L524.8,152.8 L525.4,153.9 L526.1,155.1 L526.7,156.2 L527.3,157.4 L527.9,158.6 L528.4,159.8 L529.0,161.0 L529.5,162.2 L530.1,163.4 L530.6,164.6 L531.1,165.8 L531.6,167.0 L532.0,168.2 L532.5,169.4 L533.0,170.6 L533.5,171.8 L534.0,173.0 L534.5,174.2 L535.0,175.3 L535.6,176.5 L536.1,177.7 L536.7,178.9 L537.2,180.0 L537.7,181.1 L538.2,182.1 L538.6,183.1 L539.0,184.0 L539.5,185.3 L539.8,186.1 L540.0,186.8 L540.3,188.0 L541.0,190.0 L541.3,190.8 L541.6,191.7 L541.9,192.7 L542.3,193.8 L542.7,194.9 L543.1,196.1 L543.5,197.3 L544.0,198.5 L544.4,199.8 L544.9,201.1 L545.3,202.5 L545.8,203.8 L546.2,205.1 L546.7,206.4 L547.1,207.6 L547.6,208.8 L548.0,210.0 L548.4,211.2 L548.9,212.5 L549.3,213.7 L549.8,214.9 L550.2,216.2 L550.6,217.4 L551.1,218.7 L551.5,219.9 L551.9,221.1 L552.4,222.3 L552.8,223.5 L553.2,224.6 L553.7,225.8 L554.1,226.9 L554.6,228.0 L555.0,229.0 L555.5,230.2 L556.1,231.4 L556.6,232.5 L557.2,233.6 L557.7,234.7 L558.2,235.7 L558.8,236.7 L559.3,237.7 L559.8,238.7 L560.4,239.7 L560.9,240.8 L561.5,241.9 L562.0,243.0 L562.5,244.1 L563.0,245.2 L563.5,246.4 L564.0,247.5 L564.5,248.7 L565.0,249.9 L565.5,251.1 L566.0,252.2 L566.5,253.4 L567.0,254.6 L567.5,255.7 L568.0,256.9 L568.5,257.9 L569.0,259.0 L569.6,260.2 L570.2,261.4 L570.8,262.5 L571.4,263.6 L572.0,264.7 L572.6,265.8 L573.2,266.9 L573.7,267.9 L574.3,269.0 L574.9,270.0 L575.5,271.0 L576.0,272.0 L576.6,273.2 L577.3,274.4 L577.9,275.5 L578.5,276.7 L579.1,277.8 L579.7,278.8 L580.3,279.9 L580.9,280.9 L581.4,281.9 L582.0,282.8 L582.7,283.9 L583.3,284.8 L583.9,285.6 L584.5,286.3 L585.2,287.2 L586.0,288.4 L587.0,290.0 L587.5,290.8 L588.0,291.7 L588.6,292.7 L589.2,293.7 L589.8,294.8 L590.5,295.9 L591.2,297.1 L591.8,298.3 L592.5,299.5 L593.2,300.8 L593.9,302.0 L594.7,303.1 L595.4,304.3 L596.0,305.4 L596.7,306.4 L597.4,307.4 L598.0,308.3 L598.9,309.5 L599.7,310.5 L600.5,311.5 L601.3,312.4 L602.1,313.3 L602.9,314.1 L603.7,314.9 L604.6,315.7 L605.4,316.5 L606.2,317.3 L607.1,318.1 L608.0,319.0 L608.9,319.8 L609.7,320.7 L610.6,321.6 L611.5,322.4 L612.5,323.3 L613.4,324.2 L614.3,325.0 L615.3,325.9 L616.2,326.7 L617.2,327.6 L618.1,328.4 L619.1,329.2 L620.0,330.0 L621.0,330.8 L622.0,331.7 L623.0,332.5 L624.0,333.3 L625.0,334.1 L626.0,334.9 L627.0,335.7 L628.0,336.4 L629.0,337.1 L630.0,337.8 L631.0,338.5 L632.0,339.2 L633.1,339.9 L634.2,340.6 L635.3,341.2 L636.4,341.8 L637.6,342.4 L638.7,343.0 L639.8,343.5 L640.9,344.1 L641.9,344.6 L643.0,345.1 L644.0,345.6 L645.2,346.2 L646.4,346.7 L647.5,347.3 L648.6,347.8 L649.7,348.3 L650.8,348.7 L651.8,349.2 L652.9,349.6 L654.0,350.0 L655.3,350.5 L656.7,350.9 L658.1,351.4 L659.4,351.8 L660.7,352.2 L661.9,352.5 L662.9,352.8 L663.6,353.0" fill="none" stroke="#808080" stroke-width="1.65"/>
<path d="M92.0,377.8 L94.2,379.2 L96.4,378.1 L98.6,379.3 L100.8,378.0 L103.0,377.8 L105.2,379.0 L107.4,378.0 L109.6,379.3 L111.8,377.5 L114.0,378.7 L116.2,377.6 L118.4,378.6 L120.6,377.7 L122.8,379.2 L125.0,377.3 L127.2,379.1 L129.4,377.3 L131.6,378.6 L133.8,377.8 L136.0,377.6 L138.2,378.7 L140.4,377.6 L142.6,378.9 L144.8,377.2 L147.0,379.0 L149.2,377.0 L151.4,378.3 L153.6,376.8 L155.8,377.0 L158.0,378.0 L160.2,376.7 L162.4,377.7 L164.6,376.2 L166.8,377.9 L169.0,376.5 L171.2,377.6 L173.4,376.3 L175.6,376.8 L177.8,375.7 L180.0,377.1 L182.2,374.9 L184.4,376.1 L186.6,375.2 L188.8,376.0 L191.0,374.8 L193.2,375.9 L195.4,373.8 L197.6,375.2 L199.8,373.7 L202.0,374.9 L204.2,373.2 L206.4,373.0 L208.6,374.2 L210.8,372.6 L213.0,372.1 L215.2,372.8 L217.4,371.4 L219.6,372.5 L221.8,371.0 L224.0,371.6 L226.2,370.0 L228.4,370.9 L230.6,369.2 L232.8,369.7 L235.0,367.4 L237.2,367.9 L239.4,366.4 L241.6,367.4 L243.8,365.8 L246.0,366.2 L248.2,364.3 L250.4,364.6 L252.6,362.6 L254.8,362.4 L257.0,360.0 L259.2,359.5 L261.4,356.7 L263.6,355.9 L265.8,353.5 L268.0,352.6 L270.2,350.3 L272.4,349.0 L274.6,346.4 L276.8,345.1 L279.0,342.0 L281.2,340.1 L283.4,336.7 L285.6,334.5 L287.8,331.2 L290.0,329.3 L292.2,326.6 L294.4,323.3 L296.6,321.6 L298.8,317.5 L301.0,314.6 L303.2,312.0 L305.4,307.9 L307.6,305.5 L309.8,302.1 L312.0,299.8 L314.2,296.5 L316.4,293.4 L318.6,290.0 L320.8,286.9 L323.0,282.8 L325.2,280.6 L327.4,277.5 L329.6,276.2 L331.8,273.5 L334.0,272.6 L336.2,270.5 L338.4,271.9 L340.6,271.3 L342.8,272.7 L345.0,273.6 L347.2,273.9 L349.4,275.9 L351.6,276.2 L353.8,277.6 L356.0,276.3 L358.2,275.0 L360.4,272.1 L362.6,269.8 L364.8,267.1 L366.0,263.1 L366.1,263.1 L367.2,259.3 L368.3,254.8 L369.4,249.2 L370.5,242.7 L371.6,236.7 L372.7,231.3 L373.8,225.1 L374.9,217.6 L376.0,209.4 L377.1,198.6 L378.2,180.8 L379.3,161.6 L380.4,144.2 L381.5,131.7 L382.6,122.4 L383.7,113.0 L384.8,93.4 L385.9,76.1 L387.0,62.9 L388.1,52.1 L389.2,45.3 L390.3,41.3 L391.4,38.8 L392.5,37.1 L393.6,38.6 L394.7,40.9 L395.8,43.1 L396.9,45.4 L398.0,48.2 L399.1,51.4 L400.2,55.5 L401.3,58.9 L402.4,62.0 L403.5,64.4 L404.6,65.8 L405.7,67.2 L406.8,68.0 L407.9,68.5 L409.0,69.4 L410.1,70.3 L411.2,73.5 L412.3,74.7 L413.4,73.2 L414.5,70.3 L415.6,70.6 L416.7,72.2 L417.8,73.3 L418.9,74.2 L420.0,75.7 L421.1,76.5 L422.2,77.6 L423.3,79.3 L424.4,80.4 L425.5,82.1 L426.6,84.1 L427.7,86.7 L428.8,88.5 L429.9,90.7 L431.0,93.7 L432.1,96.1 L433.2,100.0 L434.3,104.0 L435.4,108.4 L436.5,113.1 L437.6,117.5 L438.7,122.2 L439.8,126.1 L440.9,130.5 L442.0,134.1 L443.1,137.9 L444.2,141.1 L445.3,145.0 L446.4,148.6 L447.5,151.5 L448.6,155.0 L449.7,158.4 L450.8,161.8 L451.9,164.6 L453.0,167.7 L454.1,170.9 L455.2,174.2 L456.3,177.2 L457.4,179.6 L458.5,182.0 L459.6,184.1 L460.7,186.0 L461.8,187.7 L462.9,189.2 L464.0,191.0 L465.1,193.0 L466.2,194.2 L467.3,195.6 L468.4,196.1 L469.5,197.0 L470.6,197.5 L471.7,197.8 L472.8,198.0 L473.9,198.1 L475.0,197.9 L476.1,196.9 L477.2,195.3 L478.3,193.5 L479.4,191.4 L480.5,188.7 L481.6,185.1 L482.7,181.3 L483.8,177.6 L484.9,174.0 L486.0,170.6 L487.1,167.3 L488.2,164.5 L489.3,162.2 L490.4,160.6 L491.5,159.5 L492.6,159.1 L493.7,161.0 L494.8,165.3 L495.9,170.0 L496.9,174.9 L497.0,175.6 L499.2,186.5 L501.4,198.1 L503.6,205.9 L505.8,213.3 L508.0,218.2 L510.2,224.1 L512.4,226.4 L514.6,229.6 L516.8,231.3 L519.0,236.9 L521.2,240.4 L523.4,245.4 L525.6,251.3 L527.8,259.0 L530.0,264.7 L532.2,272.8 L534.4,280.5 L536.6,287.9 L538.8,292.3 L541.0,299.6 L543.2,306.5 L545.4,313.6 L547.6,317.9 L549.8,323.2 L552.0,326.7 L554.2,331.3 L556.4,333.9 L558.6,336.3 L560.8,338.5 L563.0,339.6 L565.2,345.1 L567.4,346.6 L569.6,348.0 L571.8,348.4 L574.0,350.7 L576.2,351.3 L578.4,353.6 L580.6,354.8 L582.8,355.3 L585.0,356.9 L587.2,357.3 L589.4,359.0 L591.6,359.4 L593.8,361.4 L596.0,361.8 L598.2,362.7 L600.4,364.1 L602.6,362.8 L604.8,363.6 L607.0,364.1 L609.2,366.5 L611.4,365.8 L613.6,367.6 L615.8,366.9 L618.0,368.3 L620.2,368.0 L622.4,369.5 L624.6,368.8 L626.8,370.7 L629.0,369.3 L631.2,371.1 L633.4,370.5 L635.6,372.0 L637.8,371.0 L640.0,372.4 L642.2,370.9 L644.4,372.2 L646.6,371.4 L648.8,372.6 L651.0,371.6 L653.2,372.5 L655.4,371.4 L657.6,372.0 L659.8,373.7 L662.0,372.6 L663.6,374.5 L663.6,380.2 L92.0,380.2 Z" fill="#008b8b" fill-opacity="0.3" stroke="none"/>
<path d="M92.0,377.8 L94.2,379.2 L96.4,378.1 L98.6,379.3 L100.8,378.0 L103.0,377.8 L105.2,379.0 L107.4,378.0 L109.6,379.3 L111.8,377.5 L114.0,378.7 L116.2,377.6 L118.4,378.6 L120.6,377.7 L122.8,379.2 L125.0,377.3 L127.2,379.1 L129.4,377.3 L131.6,378.6 L133.8,377.8 L136.0,377.6 L138.2,378.7 L140.4,377.6 L142.6,378.9 L144.8,377.2 L147.0,379.0 L149.2,377.0 L151.4,378.3 L153.6,376.8 L155.8,377.0 L158.0,378.0 L160.2,376.7 L162.4,377.7 L164.6,376.2 L166.8,377.9 L169.0,376.5 L171.2,377.6 L173.4,376.3 L175.6,376.8 L177.8,375.7 L180.0,377.1 L182.2,374.9 L184.4,376.1 L186.6,375.2 L188.8,376.0 L191.0,374.8 L193.2,375.9 L195.4,373.8 L197.6,375.2 L199.8,373.7 L202.0,374.9 L204.2,373.2 L206.4,373.0 L208.6,374.2 L210.8,372.6 L213.0,372.1 L215.2,372.8 L217.4,371.4 L219.6,372.5 L221.8,371.0 L224.0,371.6 L226.2,370.0 L228.4,370.9 L230.6,369.2 L232.8,369.7 L235.0,367.4 L237.2,367.9 L239.4,366.4 L241.6,367.4 L243.8,365.8 L246.0,366.2 L248.2,364.3 L250.4,364.6 L252.6,362.6 L254.8,362.4 L257.0,360.0 L259.2,359.5 L261.4,356.7 L263.6,355.9 L265.8,353.5 L268.0,352.6 L270.2,350.3 L272.4,349.0 L274.6,346.4 L276.8,345.1 L279.0,342.0 L281.2,340.1 L283.4,336.7 L285.6,334.5 L287.8,331.2 L290.0,329.3 L292.2,326.6 L294.4,323.3 L296.6,321.6 L298.8,317.5 L301.0,314.6 L303.2,312.0 L305.4,307.9 L307.6,305.5 L309.8,302.1 L312.0,299.8 L314.2,296.5 L316.4,293.4 L318.6,290.0 L320.8,286.9 L323.0,282.8 L325.2,280.6 L327.4,277.5 L329.6,276.2 L331.8,273.5 L334.0,272.6 L336.2,270.5 L338.4,271.9 L340.6,271.3 L342.8,272.7 L345.0,273.6 L347.2,273.9 L349.4,275.9 L351.6,276.2 L353.8,277.6 L356.0,276.3 L358.2,275.0 L360.4,272.1 L362.6,269.8 L364.8,267.1 L366.0,263.1 L366.1,263.1 L367.2,259.3 L368.3,254.8 L369.4,249.2 L370.5,242.7 L371.6,236.7 L372.7,231.3 L373.8,225.1 L374.9,217.6 L376.0,209.4 L377.1,198.6 L378.2,180.8 L379.3,161.6 L380.4,144.2 L381.5,131.7 L382.6,122.4 L383.7,113.0 L384.8,93.4 L385.9,76.1 L387.0,62.9 L388.1,52.1 L389.2,45.3 L390.3,41.3 L391.4,38.8 L392.5,37.1 L393.6,38.6 L394.7,40.9 L395.8,43.1 L396.9,45.4 L398.0,48.2 L399.1,51.4 L400.2,55.5 L401.3,58.9 L402.4,62.0 L403.5,64.4 L404.6,65.8 L405.7,67.2 L406.8,68.0 L407.9,68.5 L409.0,69.4 L410.1,70.3 L411.2,73.5 L412.3,74.7 L413.4,73.2 L414.5,70.3 L415.6,70.6 L416.7,72.2 L417.8,73.3 L418.9,74.2 L420.0,75.7 L421.1,76.5 L422.2,77.6 L423.3,79.3 L424.4,80.4 L425.5,82.1 L426.6,84.1 L427.7,86.7 L428.8,88.5 L429.9,90.7 L431.0,93.7 L432.1,96.1 L433.2,100.0 L434.3,104.0 L435.4,108.4 L436.5,113.1 L437.6,117.5 L438.7,122.2 L439.8,126.1 L440.9,130.5 L442.0,134.1 L443.1,137.9 L444.2,141.1 L445.3,145.0 L446.4,148.6 L447.5,151.5 L448.6,155.0 L449.7,158.4 L450.8,161.8 L451.9,164.6 L453.0,167.7 L454.1,170.9 L455.2,174.2 L456.3,177.2 L457.4,179.6 L458.5,182.0 L459.6,184.1 L460.7,186.0 L461.8,187.7 L462.9,189.2 L464.0,191.0 L465.1,193.0 L466.2,194.2 L467.3,195.6 L468.4,196.1 L469.5,197.0 L470.6,197.5 L471.7,197.8 L472.8,198.0 L473.9,198.1 L475.0,197.9 L476.1,196.9 L477.2,195.3 L478.3,193.5 L479.4,191.4 L480.5,188.7 L481.6,185.1 L482.7,181.3 L483.8,177.6 L484.9,174.0 L486.0,170.6 L487.1,167.3 L488.2,164.5 L489.3,162.2 L490.4,160.6 L491.5,159.5 L492.6,159.1 L493.7,161.0 L494.8,165.3 L495.9,170.0 L496.9,174.9 L497.0,175.6 L499.2,186.5 L501.4,198.1 L503.6,205.9 L505.8,213.3 L508.0,218.2 L510.2,224.1 L512.4,226.4 L514.6,229.6 L516.8,231.3 L519.0,236.9 L521.2,240.4 L523.4,245.4 L525.6,251.3 L527.8,259.0 L530.0,264.7 L532.2,272.8 L534.4,280.5 L536.6,287.9 L538.8,292.3 L541.0,299.6 L543.2,306.5 L545.4,313.6 L547.6,317.9 L549.8,323.2 L552.0,326.7 L554.2,331.3 L556.4,333.9 L558.6,336.3 L560.8,338.5 L563.0,339.6 L565.2,345.1 L567.4,346.6 L569.6,348.0 L571.8,348.4 L574.0,350.7 L576.2,351.3 L578.4,353.6 L580.6,354.8 L582.8,355.3 L585.0,356.9 L587.2,357.3 L589.4,359.0 L591.6,359.4 L593.8,361.4 L596.0,361.8 L598.2,362.7 L600.4,364.1 L602.6,362.8 L604.8,363.6 L607.0,364.1 L609.2,366.5 L611.4,365.8 L613.6,367.6 L615.8,366.9 L618.0,368.3 L620.2,368.0 L622.4,369.5 L624.6,368.8 L626.8,370.7 L629.0,369.3 L631.2,371.1 L633.4,370.5 L635.6,372.0 L637.8,371.0 L640.0,372.4 L642.2,370.9 L644.4,372.2 L646.6,371.4 L648.8,372.6 L651.0,371.6 L653.2,372.5 L655.4,371.4 L657.6,372.0 L659.8,373.7 L662.0,372.6 L663.6,374.5" fill="none" stroke="#008b8b" stroke-width="1.7"/>
</g>
<path d="M91.9,3.5 H663.6 V380.2 H91.9 Z M91.9,380.2 V392.6 M120.5,380.2 V386.7 M120.5,3.5 V10.0 M149.1,380.2 V392.6 M149.1,3.5 V15.8 M177.7,380.2 V386.7 M177.7,3.5 V10.0 M206.2,380.2 V392.6 M206.2,3.5 V15.8 M234.8,380.2 V386.7 M234.8,3.5 V10.0 M263.4,380.2 V392.6 M263.4,3.5 V15.8 M292.0,380.2 V386.7 M292.0,3.5 V10.0 M320.6,380.2 V392.6 M320.6,3.5 V15.8 M349.2,380.2 V386.7 M349.2,3.5 V10.0 M377.8,380.2 V392.6 M377.8,3.5 V15.8 M406.3,380.2 V386.7 M406.3,3.5 V10.0 M434.9,380.2 V392.6 M434.9,3.5 V15.8 M463.5,380.2 V386.7 M463.5,3.5 V10.0 M492.1,380.2 V392.6 M492.1,3.5 V15.8 M520.7,380.2 V386.7 M520.7,3.5 V10.0 M549.3,380.2 V392.6 M549.3,3.5 V15.8 M577.8,380.2 V386.7 M577.8,3.5 V10.0 M606.4,380.2 V392.6 M606.4,3.5 V15.8 M635.0,380.2 V386.7 M635.0,3.5 V10.0 M663.6,380.2 V392.6 M91.9,380.2 H78.4 M91.9,345.9 H84.5 M663.6,345.9 H657.1 M91.9,311.6 H78.4 M663.6,311.6 H651.1 M91.9,277.3 H84.5 M663.6,277.3 H657.1 M91.9,243.0 H78.4 M663.6,243.0 H651.1 M91.9,208.8 H84.5 M663.6,208.8 H657.1 M91.9,174.5 H78.4 M663.6,174.5 H651.1 M91.9,140.2 H84.5 M663.6,140.2 H657.1 M91.9,105.9 H78.4 M663.6,105.9 H651.1 M91.9,71.6 H84.5 M663.6,71.6 H657.1 M91.9,37.3 H78.4 M663.6,37.3 H651.1 M91.9,3.0 H84.5" stroke="#000" stroke-width="2.5" fill="none" stroke-linecap="butt" stroke-linejoin="miter"/>
<g font-family="'Liberation Serif', 'Times New Roman', serif" fill="#000" stroke="#000" stroke-width="0.15" style="font-kerning:none">
<g font-size="26.4" text-anchor="middle" stroke="none">
<text x="91.6" y="420.3">370</text>
<text x="148.8" y="420.3">375</text>
<text x="205.9" y="420.3">380</text>
<text x="263.1" y="420.3">385</text>
<text x="320.3" y="420.3">390</text>
<text x="377.4" y="420.3">395</text>
<text x="434.6" y="420.3">400</text>
<text x="491.8" y="420.3">405</text>
<text x="549.0" y="420.3">410</text>
<text x="606.1" y="420.3">415</text>
<text x="663.3" y="420.3">420</text>
</g>
<g font-size="26.4" text-anchor="end" stroke="none">
<text x="71" y="388.9">0.0</text>
<text x="71" y="320.3">0.2</text>
<text x="71" y="251.7">0.4</text>
<text x="71" y="183.2">0.6</text>
<text x="71" y="114.6">0.8</text>
<text x="71" y="46.0">1.0</text>
</g>
<text x="377.7" y="454.8" font-size="31.3" text-anchor="middle">Wavelength (nm)</text>
<text transform="translate(25.3,192.5) rotate(-90)" font-size="31.4" text-anchor="middle">Normalized Intensity</text>
<rect x="124.6" y="39" width="44.6" height="21" fill="#b2b2ff" stroke="#9a9af7" stroke-width="1"/>
<rect x="124.6" y="65.3" width="44.6" height="21" fill="#d9d9d9" stroke="#cdcdcd" stroke-width="1"/>
<rect x="124.6" y="90.8" width="44.6" height="21" fill="#b2dcdc" stroke="#9fd0d0" stroke-width="1"/>
<g font-size="19.75">
<text x="176" y="56.4">Incident laser</text>
<text x="176" y="81.6">Through blank</text>
<text x="176" y="107.3">Through UO<tspan font-size="12.8" dy="7.3">2</tspan><tspan dy="-7.3">F</tspan><tspan font-size="12.8" dy="7.3">2</tspan></text>
</g>
</g>
</svg>
</body></html>
